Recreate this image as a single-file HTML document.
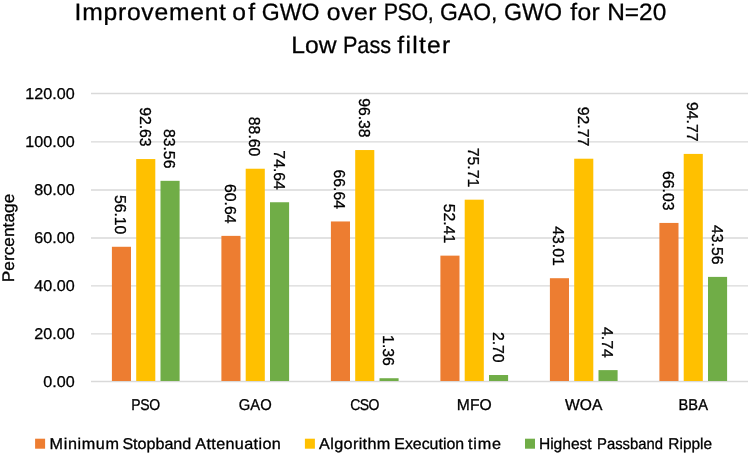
<!DOCTYPE html>
<html lang="en"><head><meta charset="utf-8"><title>Improvement of GWO over PSO, GAO, GWO for N=20 Low Pass filter</title>
<style>html,body{margin:0;padding:0;background:#fff}body{width:749px;height:455px;overflow:hidden}svg{display:block}text{font-family:'Liberation Sans', sans-serif;fill:#000;white-space:pre;font-variant-ligatures:none;text-rendering:geometricPrecision}</style></head><body>
<svg width="749" height="455" viewBox="0 0 749 455">
<rect width="749" height="455" fill="#fff"/>
<g stroke="#D9D9D9" stroke-width="1.35">
<line x1="91.0" y1="93.50" x2="748.0" y2="93.50"/>
<line x1="91.0" y1="141.90" x2="748.0" y2="141.90"/>
<line x1="91.0" y1="189.95" x2="748.0" y2="189.95"/>
<line x1="91.0" y1="237.95" x2="748.0" y2="237.95"/>
<line x1="91.0" y1="285.90" x2="748.0" y2="285.90"/>
<line x1="91.0" y1="333.80" x2="748.0" y2="333.80"/>
<line x1="91.0" y1="381.50" x2="748.0" y2="381.50"/>
</g>
<g>
<rect x="111.90" y="246.78" width="19.10" height="134.22" fill="#ED7D31"/>
<rect x="136.20" y="159.05" width="19.10" height="221.95" fill="#FFC000"/>
<rect x="160.50" y="180.83" width="19.10" height="200.17" fill="#70AD47"/>
</g>
<g>
<rect x="221.40" y="235.87" width="19.10" height="145.13" fill="#ED7D31"/>
<rect x="245.70" y="168.73" width="19.10" height="212.27" fill="#FFC000"/>
<rect x="270.00" y="202.25" width="19.10" height="178.75" fill="#70AD47"/>
</g>
<g>
<rect x="330.90" y="221.46" width="19.10" height="159.54" fill="#ED7D31"/>
<rect x="355.20" y="150.04" width="19.10" height="230.96" fill="#FFC000"/>
<rect x="379.50" y="378.23" width="19.10" height="2.77" fill="#70AD47"/>
</g>
<g>
<rect x="440.40" y="255.64" width="19.10" height="125.36" fill="#ED7D31"/>
<rect x="464.70" y="199.68" width="19.10" height="181.32" fill="#FFC000"/>
<rect x="489.00" y="375.02" width="19.10" height="5.98" fill="#70AD47"/>
</g>
<g>
<rect x="549.90" y="278.21" width="19.10" height="102.79" fill="#ED7D31"/>
<rect x="574.20" y="158.71" width="19.10" height="222.29" fill="#FFC000"/>
<rect x="598.50" y="370.12" width="19.10" height="10.88" fill="#70AD47"/>
</g>
<g>
<rect x="659.40" y="222.93" width="19.10" height="158.07" fill="#ED7D31"/>
<rect x="683.70" y="153.91" width="19.10" height="227.09" fill="#FFC000"/>
<rect x="708.00" y="276.89" width="19.10" height="104.11" fill="#70AD47"/>
</g>
<rect x="35.1" y="438.7" width="10.0" height="10.0" fill="#ED7D31"/>
<rect x="304.9" y="438.7" width="10.0" height="10.0" fill="#FFC000"/>
<rect x="525.0" y="438.7" width="10.0" height="10.0" fill="#70AD47"/>
<text font-size="15.60" y="98.75" stroke="#000" stroke-width="0.30"><tspan x="25.35" textLength="49.25" lengthAdjust="spacingAndGlyphs">120.00</tspan></text>
<text font-size="15.60" y="146.75" stroke="#000" stroke-width="0.30"><tspan x="25.35" textLength="49.25" lengthAdjust="spacingAndGlyphs">100.00</tspan></text>
<text font-size="15.60" y="194.75" stroke="#000" stroke-width="0.30"><tspan x="34.31" textLength="40.29" lengthAdjust="spacingAndGlyphs">80.00</tspan></text>
<text font-size="15.60" y="242.75" stroke="#000" stroke-width="0.30"><tspan x="34.31" textLength="40.29" lengthAdjust="spacingAndGlyphs">60.00</tspan></text>
<text font-size="15.60" y="290.75" stroke="#000" stroke-width="0.30"><tspan x="34.31" textLength="40.29" lengthAdjust="spacingAndGlyphs">40.00</tspan></text>
<text font-size="15.60" y="338.75" stroke="#000" stroke-width="0.30"><tspan x="34.31" textLength="40.29" lengthAdjust="spacingAndGlyphs">20.00</tspan></text>
<text font-size="15.60" y="386.75" stroke="#000" stroke-width="0.30"><tspan x="43.26" textLength="31.34" lengthAdjust="spacingAndGlyphs">0.00</tspan></text>
<text font-size="15.60" y="409.80" stroke="#000" stroke-width="0.30"><tspan x="131.27" textLength="28.63" lengthAdjust="spacingAndGlyphs" letter-spacing="-0.36">PSO</tspan></text>
<text font-size="15.86" y="0.00" transform="translate(115.45 234.38) rotate(90)" stroke="#000" stroke-width="0.30"><tspan x="-39.50" textLength="39.50" lengthAdjust="spacingAndGlyphs">56.10</tspan></text>
<text font-size="15.86" y="0.00" transform="translate(139.75 146.65) rotate(90)" stroke="#000" stroke-width="0.30"><tspan x="-39.50" textLength="39.50" lengthAdjust="spacingAndGlyphs">92.63</tspan></text>
<text font-size="15.86" y="0.00" transform="translate(164.05 168.43) rotate(90)" stroke="#000" stroke-width="0.30"><tspan x="-39.50" textLength="39.50" lengthAdjust="spacingAndGlyphs">83.56</tspan></text>
<text font-size="15.60" y="409.80" stroke="#000" stroke-width="0.30"><tspan x="238.81" textLength="32.88" lengthAdjust="spacingAndGlyphs">GAO</tspan></text>
<text font-size="15.86" y="0.00" transform="translate(224.95 223.47) rotate(90)" stroke="#000" stroke-width="0.30"><tspan x="-39.50" textLength="39.50" lengthAdjust="spacingAndGlyphs">60.64</tspan></text>
<text font-size="15.86" y="0.00" transform="translate(249.25 156.33) rotate(90)" stroke="#000" stroke-width="0.30"><tspan x="-39.50" textLength="39.50" lengthAdjust="spacingAndGlyphs">88.60</tspan></text>
<text font-size="15.86" y="0.00" transform="translate(273.55 189.85) rotate(90)" stroke="#000" stroke-width="0.30"><tspan x="-39.50" textLength="39.50" lengthAdjust="spacingAndGlyphs">74.64</tspan></text>
<text font-size="15.60" y="409.80" stroke="#000" stroke-width="0.30"><tspan x="350.13" textLength="28.68" lengthAdjust="spacingAndGlyphs" letter-spacing="-0.63">CSO</tspan></text>
<text font-size="15.86" y="0.00" transform="translate(334.45 209.06) rotate(90)" stroke="#000" stroke-width="0.30"><tspan x="-39.50" textLength="39.50" lengthAdjust="spacingAndGlyphs">66.64</tspan></text>
<text font-size="15.86" y="0.00" transform="translate(358.75 137.64) rotate(90)" stroke="#000" stroke-width="0.30"><tspan x="-39.50" textLength="39.50" lengthAdjust="spacingAndGlyphs">96.38</tspan></text>
<text font-size="15.86" y="0.00" transform="translate(383.05 365.83) rotate(90)" stroke="#000" stroke-width="0.30"><tspan x="-30.72" textLength="30.72" lengthAdjust="spacingAndGlyphs">1.36</tspan></text>
<text font-size="15.60" y="409.80" stroke="#000" stroke-width="0.30"><tspan x="456.86" textLength="34.78" lengthAdjust="spacingAndGlyphs">MFO</tspan></text>
<text font-size="15.86" y="0.00" transform="translate(443.95 243.24) rotate(90)" stroke="#000" stroke-width="0.30"><tspan x="-39.50" textLength="39.50" lengthAdjust="spacingAndGlyphs">52.41</tspan></text>
<text font-size="15.86" y="0.00" transform="translate(468.25 187.28) rotate(90)" stroke="#000" stroke-width="0.30"><tspan x="-39.50" textLength="39.50" lengthAdjust="spacingAndGlyphs">75.71</tspan></text>
<text font-size="15.86" y="0.00" transform="translate(492.55 362.62) rotate(90)" stroke="#000" stroke-width="0.30"><tspan x="-30.72" textLength="30.72" lengthAdjust="spacingAndGlyphs">2.70</tspan></text>
<text font-size="15.60" y="409.80" stroke="#000" stroke-width="0.30"><tspan x="565.12" textLength="37.27" lengthAdjust="spacingAndGlyphs">WOA</tspan></text>
<text font-size="15.86" y="0.00" transform="translate(553.45 265.81) rotate(90)" stroke="#000" stroke-width="0.30"><tspan x="-39.50" textLength="39.50" lengthAdjust="spacingAndGlyphs">43.01</tspan></text>
<text font-size="15.86" y="0.00" transform="translate(577.75 146.31) rotate(90)" stroke="#000" stroke-width="0.30"><tspan x="-39.50" textLength="39.50" lengthAdjust="spacingAndGlyphs">92.77</tspan></text>
<text font-size="15.86" y="0.00" transform="translate(602.05 357.72) rotate(90)" stroke="#000" stroke-width="0.30"><tspan x="-30.72" textLength="30.72" lengthAdjust="spacingAndGlyphs">4.74</tspan></text>
<text font-size="15.60" y="409.80" stroke="#000" stroke-width="0.30"><tspan x="678.61" textLength="29.28" lengthAdjust="spacingAndGlyphs">BBA</tspan></text>
<text font-size="15.86" y="0.00" transform="translate(662.95 210.53) rotate(90)" stroke="#000" stroke-width="0.30"><tspan x="-39.50" textLength="39.50" lengthAdjust="spacingAndGlyphs">66.03</tspan></text>
<text font-size="15.86" y="0.00" transform="translate(687.25 141.51) rotate(90)" stroke="#000" stroke-width="0.30"><tspan x="-39.50" textLength="39.50" lengthAdjust="spacingAndGlyphs">94.77</tspan></text>
<text font-size="15.86" y="0.00" transform="translate(711.55 264.49) rotate(90)" stroke="#000" stroke-width="0.30"><tspan x="-39.50" textLength="39.50" lengthAdjust="spacingAndGlyphs">43.56</tspan></text>
<text font-size="16.80" y="0.00" transform="translate(13.80 282.20) rotate(-90)" stroke="#000" stroke-width="0.30"><tspan x="0.00" textLength="88.50" lengthAdjust="spacingAndGlyphs">Percentage</tspan></text>
<text font-size="23.73" y="20.00" stroke="#000" stroke-width="0.28"><tspan x="74.60" textLength="152.11" lengthAdjust="spacingAndGlyphs" letter-spacing="0.71">Improvement</tspan> <tspan x="232.17" textLength="25.10" lengthAdjust="spacingAndGlyphs" letter-spacing="2.18">of</tspan> <tspan x="261.71" textLength="57.65" lengthAdjust="spacingAndGlyphs">GWO</tspan> <tspan x="326.86" textLength="50.24" lengthAdjust="spacingAndGlyphs" letter-spacing="0.54">over</tspan> <tspan x="383.74" textLength="49.44" lengthAdjust="spacingAndGlyphs" letter-spacing="-0.44">PSO,</tspan> <tspan x="440.07" textLength="57.23" lengthAdjust="spacingAndGlyphs">GAO,</tspan> <tspan x="504.00" textLength="57.95" lengthAdjust="spacingAndGlyphs">GWO</tspan> <tspan x="570.36" textLength="29.74" lengthAdjust="spacingAndGlyphs" letter-spacing="0.31">for</tspan> <tspan x="607.18" textLength="59.17" lengthAdjust="spacingAndGlyphs">N=20</tspan></text>
<text font-size="23.73" y="53.40" stroke="#000" stroke-width="0.28"><tspan x="291.20" textLength="45.62" lengthAdjust="spacingAndGlyphs" letter-spacing="0.12">Low</tspan> <tspan x="342.90" textLength="48.18" lengthAdjust="spacingAndGlyphs">Pass</tspan> <tspan x="397.27" textLength="54.36" lengthAdjust="spacingAndGlyphs" letter-spacing="1.24">filter</tspan></text>
<text font-size="15.60" y="448.60" stroke="#000" stroke-width="0.30"><tspan x="49.60" textLength="69.90" lengthAdjust="spacingAndGlyphs" letter-spacing="0.58">Minimum</tspan> <tspan x="122.40" textLength="68.87" lengthAdjust="spacingAndGlyphs">Stopband</tspan> <tspan x="195.27" textLength="85.87" lengthAdjust="spacingAndGlyphs" letter-spacing="0.34">Attenuation</tspan></text>
<text font-size="15.60" y="448.60" stroke="#000" stroke-width="0.30"><tspan x="319.10" textLength="71.55" lengthAdjust="spacingAndGlyphs" letter-spacing="0.33">Algorithm</tspan> <tspan x="394.29" textLength="69.82" lengthAdjust="spacingAndGlyphs">Execution</tspan> <tspan x="468.10" textLength="33.56" lengthAdjust="spacingAndGlyphs" letter-spacing="0.71">time</tspan></text>
<text font-size="15.60" y="448.60" stroke="#000" stroke-width="0.30"><tspan x="538.90" textLength="52.80" lengthAdjust="spacingAndGlyphs">Highest</tspan> <tspan x="597.00" textLength="66.07" lengthAdjust="spacingAndGlyphs">Passband</tspan> <tspan x="668.36" textLength="43.78" lengthAdjust="spacingAndGlyphs">Ripple</tspan></text>
</svg></body></html>
